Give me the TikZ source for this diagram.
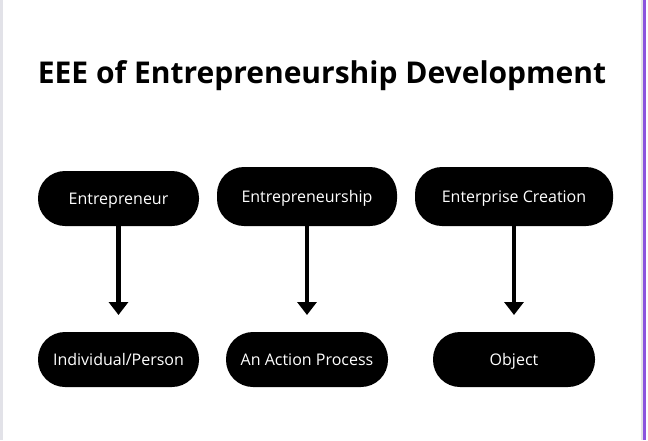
\documentclass[tikz,border=0pt]{standalone}
\usepackage{fontspec}
\setmainfont{Open Sans}
\usepackage{tikz}
\usetikzlibrary{arrows.meta,positioning}
\definecolor{sideviolet}{RGB}{139,84,222}
\definecolor{stripgray}{RGB}{226,226,232}

\begin{document}
\begin{tikzpicture}[>={Triangle[width=19pt,length=13pt]},x=1pt,y=-1pt,line width=4.5pt]
\tikzstyle{pill node}=[rectangle,rounded corners=27pt,fill=black,text=white,inner sep=0pt,outer sep=0pt,text height=11.5pt,text depth=0pt,font=\fontsize{16}{19}\selectfont]
\tikzstyle{top node}=[pill node,minimum height=59pt]
\tikzstyle{low node}=[pill node,minimum height=55pt,minimum width=162pt]

\tikzset{
	title node/.style={font=\fontsize{30}{36}\selectfont\bfseries,anchor=base},
	edge strip/.style={fill=stripgray,draw=none},
	side line/.style={fill=sideviolet,draw=none}
}

      % frame
      \fill[white] (0,0) rectangle (648,440);
      \fill[edge strip] (0,0) rectangle (3,440);
      \fill[edge strip] (641,0) rectangle (643,440);
      \fill[side line] (643,0) rectangle (646,440);

      \node[title node] (title) at (322,83) {EEE of Entrepreneurship Development};

      \node[pill node,minimum width=161pt,minimum height=55pt,anchor=south] (ent) at (118.5,226) {Entrepreneur};
      \node[top node,minimum width=180pt] (ship) [right=18pt of ent.south east,anchor=south west] {Entrepreneurship};
      \node[top node,minimum width=198pt] (crea) [right=18pt of ship.south east,anchor=south west] {Enterprise Creation};
      \node[low node,minimum width=161pt] (ind) [below=106pt of ent] {Individual/Person};
      \node[low node] (act) [below=106pt of ship] {An Action Process};
      \node[low node] (obj) [below=106pt of crea] {Object};

    \path[->,shorten >=17pt]  (ent) edge node {} (ind);
    \path[->,shorten >=17pt]  (ship) edge node {} (act);
    \path[->,shorten >=17pt]  (crea) edge node {} (obj);
\end{tikzpicture}
\end{document}
